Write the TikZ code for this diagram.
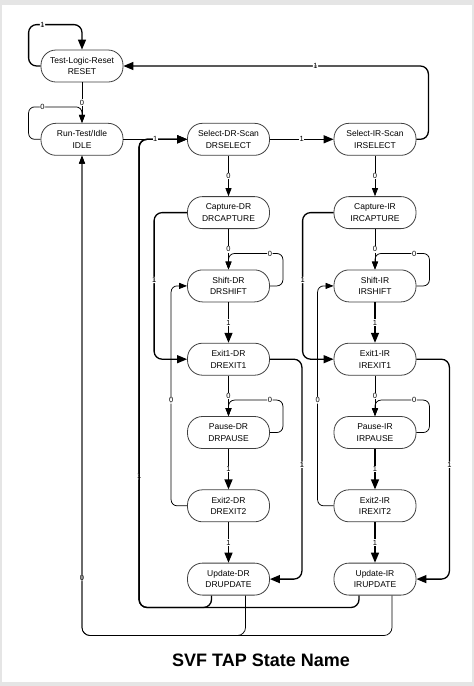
\documentclass[tikz,border=0pt]{standalone}
\usepackage{fontspec}
\setmainfont{Liberation Sans}
\usetikzlibrary{arrows.meta,positioning}

\begin{document}
\begin{tikzpicture}[x=1pt,y=1pt,on grid,node distance=73.3pt and 146.5pt,
      state node/.style={rectangle,rounded corners=15pt,draw=black!75,line width=0.8pt,
          fill=white,minimum width=82pt,minimum height=32pt,inner sep=1pt,align=center,
          font=\fontsize{8.5}{11.5}\selectfont},
      lbl/.style={fill=white,inner sep=0.6pt,font=\fontsize{7.5}{8}\selectfont},
      major/.style={line width=1.3pt,-{Triangle[length=10pt,width=8pt]}},
      minor/.style={line width=0.75pt,-{Triangle[length=8pt,width=6pt]}}]

    % page frame
    \fill[black!10] (0,0) rectangle (474,-686);
    \fill[white] (2,-5) rectangle (472,-682);

    \node[state node] (reset) at (82,-66) {Test-Logic-Reset\\RESET};
    \node[state node] (idle) [below=of reset] {Run-Test/Idle\\IDLE};
    \node[state node] (drsel) [right=of idle] {Select-DR-Scan\\DRSELECT};
    \node[state node] (irsel) [right=of drsel] {Select-IR-Scan\\IRSELECT};
    \node[state node] (drcap) [below=of drsel] {Capture-DR\\DRCAPTURE};
    \node[state node] (drshift) [below=of drcap] {Shift-DR\\DRSHIFT};
    \node[state node] (drexit1) [below=of drshift] {Exit1-DR\\DREXIT1};
    \node[state node] (drpause) [below=of drexit1] {Pause-DR\\DRPAUSE};
    \node[state node] (drexit2) [below=of drpause] {Exit2-DR\\DREXIT2};
    \node[state node] (drupd) [below=of drexit2] {Update-DR\\DRUPDATE};
    \node[state node] (ircap) [below=of irsel] {Capture-IR\\IRCAPTURE};
    \node[state node] (irshift) [below=of ircap] {Shift-IR\\IRSHIFT};
    \node[state node] (irexit1) [below=of irshift] {Exit1-IR\\IREXIT1};
    \node[state node] (irpause) [below=of irexit1] {Pause-IR\\IRPAUSE};
    \node[state node] (irexit2) [below=of irpause] {Exit2-IR\\IREXIT2};
    \node[state node] (irupd) [below=of irexit2] {Update-IR\\IRUPDATE};

    \node[font=\fontsize{18}{20}\selectfont\bfseries] (title) at (261,-660) {SVF TAP State Name};

    % long returns first, so the short arrows lie on top
    \draw[minor,rounded corners=8pt] ([xshift=17pt]drupd.south) -- ++(0,-40) -| node[lbl,pos=0.56] {0} (idle.south);
    \draw[minor,rounded corners=8pt] ([xshift=17pt]irupd.south) -- ++(0,-40) -| (idle.south);
    \draw[major,rounded corners=8pt] ([xshift=-17pt]drupd.south) -- ++(0,-12) -| ([xshift=-48pt]drsel.west) node[lbl,pos=0.64] {1} -- (drsel.west);
    \draw[major,rounded corners=8pt] ([xshift=-16pt]irupd.south) -- ++(0,-12) -| ([xshift=-48pt]drsel.west) -- (drsel.west);

    \path[every node/.style={lbl}]
    (reset) edge[minor] node {0} (idle)
    (idle) edge[major] node {1} (drsel)
    (drsel) edge[major] node {1} (irsel)

    (drsel) edge[minor] node {0} (drcap)
    (drcap) edge[minor] node {0} (drshift)
    (drshift) edge[major] node {1} (drexit1)
    (drexit1) edge[minor] node {0} (drpause)
    (drpause) edge[major] node {1} (drexit2)
    (drexit2) edge[major] node {1} (drupd)

    (irsel) edge[minor] node {0} (ircap)
    (ircap) edge[minor] node {0} (irshift)
    (irshift) edge[major] node {1} (irexit1)
    (irexit1) edge[minor] node {0} (irpause)
    (irpause) edge[major] node {1} (irexit2)
    (irexit2) edge[major] node {1} (irupd)
    ;

    % self loops
    \draw[major,rounded corners=8pt] (reset.west) -- ++(-12,0) |- ([yshift=25pt]reset.north) node[lbl,pos=0.63] {1} -- (reset.north);
    \draw[minor,rounded corners=6pt] (idle.west) -- ++(-12,0) |- ([yshift=16pt]idle.north) node[lbl,pos=0.63] {0} -- (idle.north);
    \draw[minor,rounded corners=6pt] (drshift.east) -- ++(13,0) |- ([yshift=16pt]drshift.north) node[lbl,pos=0.62] {0} -- (drshift.north);
    \draw[minor,rounded corners=6pt] (drpause.east) -- ++(13,0) |- ([yshift=16pt]drpause.north) node[lbl,pos=0.62] {0} -- (drpause.north);
    \draw[minor,rounded corners=6pt] (irshift.east) -- ++(13,0) |- ([yshift=16pt]irshift.north) node[lbl,pos=0.64] {0} -- (irshift.north);
    \draw[minor,rounded corners=6pt] (irpause.east) -- ++(13,0) |- ([yshift=16pt]irpause.north) node[lbl,pos=0.64] {0} -- (irpause.north);

    % Select-IR-Scan back to reset
    \draw[major,rounded corners=8pt] (irsel.east) -- ++(12,0) |- (reset.east) node[lbl,pos=0.685] {1};

    % side paths of the DR column
    \draw[major,rounded corners=8pt] (drcap.west) -- ++(-33,0) |- node[lbl,pos=0.23] {1} (drexit1.west);
    \draw[minor,rounded corners=6pt] (drexit2.west) -- ++(-16,0) |- node[lbl,pos=0.24] {0} (drshift.west);
    \draw[major,rounded corners=8pt] (drexit1.east) -- ++(32,0) |- node[lbl,pos=0.24] {1} (drupd.east);

    % side paths of the IR column
    \draw[major,rounded corners=8pt] (ircap.west) -- ++(-31,0) |- node[lbl,pos=0.23] {1} (irexit1.west);
    \draw[minor,rounded corners=6pt] (irexit2.west) -- ++(-16,0) |- node[lbl,pos=0.24] {0} (irshift.west);
    \draw[major,rounded corners=8pt] (irexit1.east) -- ++(33,0) |- node[lbl,pos=0.24] {1} (irupd.east);

\end{tikzpicture}
\end{document}
